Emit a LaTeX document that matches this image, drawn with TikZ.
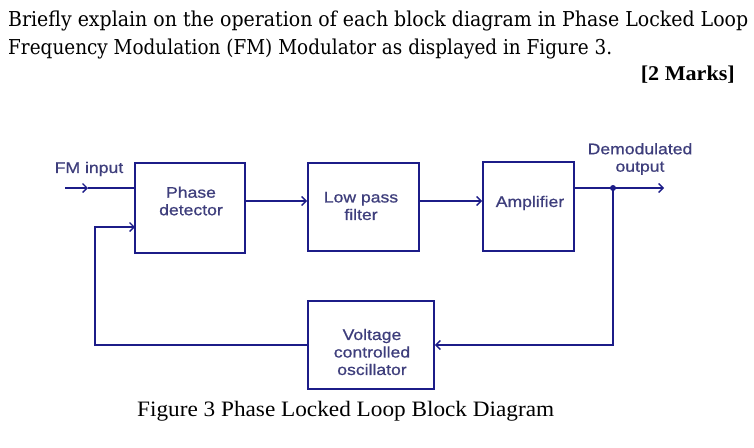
\documentclass[tikz,border=0pt]{standalone}
\usepackage{fontspec}
\setmainfont{Liberation Serif}
\newfontfamily\headfont{DejaVu Serif}
\newfontfamily\labfont[FakeStretch=1.15,FakeBold=0.8]{Liberation Sans}
\usetikzlibrary{arrows.meta}
\definecolor{navy}{HTML}{1C1C88}
\definecolor{labcol}{HTML}{3E3E7C}
\begin{document}
\begin{tikzpicture}[x=1pt,y=-1pt,
  blk/.style={draw=navy,line width=1.8pt,fill=white,inner sep=0pt},
  lab/.style={text=labcol,align=center,font=\labfont\fontsize{15.3}{17.5}\selectfont,inner sep=0pt},
  wire/.style={draw=navy,line width=1.8pt},
  arr/.style={wire,-{Straight Barb[length=4.5pt,width=9pt,line width=1.4pt]}},
  txt/.style={anchor=base west,inner sep=0pt,font=\fontsize{22}{26}\selectfont},
  head/.style={anchor=base west,inner sep=0pt,font=\headfont\fontsize{20.5}{26}\selectfont}]
\useasboundingbox[fill=white] (0,0) rectangle (754,447);
% heading
\node[head] (l1) at (8,26) {\resizebox{740pt}{\height}{Briefly explain on the operation of each block diagram in Phase Locked Loop}};
\node[head] (l2) at (8,54) {\resizebox{604pt}{\height}{Frequency Modulation (FM) Modulator as displayed in Figure 3.}};
\node[anchor=base east,inner sep=0pt,font=\fontsize{21}{24}\selectfont\bfseries] (marks) at (735,80) {\resizebox{94pt}{\height}{[2 Marks]}};
% blocks
\node[blk,minimum width=110pt,minimum height=90pt] (pd) at (190,208) {};
\node[blk,minimum width=111pt,minimum height=88pt] (lpf) at (363.5,207) {};
\node[blk,minimum width=91pt,minimum height=89pt] (amp) at (528.5,206.5) {};
\node[blk,minimum width=126pt,minimum height=88pt] (vco) at (371,345) {};
% block labels
\node[lab] (pdt) at (191,201) {Phase\\detector};
\node[lab] (lpft) at (361,206) {Low pass\\filter};
\node[lab] (ampt) at (530,203) {Amplifier};
\node[lab] (vcot) at (372,352) {Voltage\\controlled\\oscillator};
\node[lab] (fmt) at (89,169) {FM input};
\node[lab] (outt) at (640,159) {Demodulated\\output};
% coordinates
\coordinate (fmin) at (65,188);
\coordinate (fmmid) at (88,188);
\coordinate (fbc) at (95,345);
\coordinate (pdin2) at (135,227);
\coordinate (dot) at (613,188);
\coordinate (out) at (664,188);
% connectors
\draw[arr] (fmin) -- (fmmid);
\draw[wire] (fmmid) -- (pd.west |- fmmid);
\draw[arr] (vco.west) -- (fbc) |- (pdin2);
\draw[arr] (pd.east |- 0,201) -- (lpf.west |- 0,201);
\draw[arr] (lpf.east |- 0,201) -- (amp.west |- 0,201);
\draw[wire] (amp.east |- dot) -- (dot);
\draw[arr] (dot) -- (out);
\draw[arr] (dot) |- (vco.east);
\fill[navy] (dot) circle (3pt);
% caption
\node[txt] (cap) at (137,416) {\resizebox{417pt}{\height}{Figure 3 Phase Locked Loop Block Diagram}};
\end{tikzpicture}
\end{document}
